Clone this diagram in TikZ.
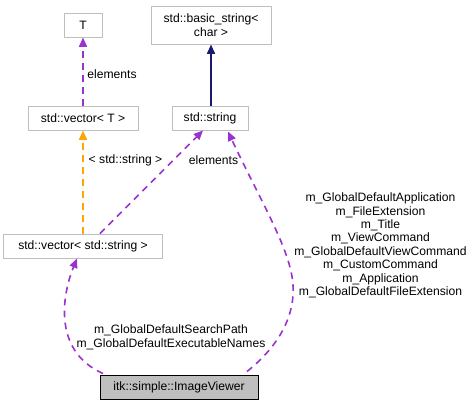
\documentclass[tikz,border=0pt]{standalone}
\usepackage{fontspec}
\setmainfont{Liberation Sans}
\usetikzlibrary{arrows.meta,calc}
\definecolor{edgepurple}{HTML}{9A32CD}
\definecolor{edgeorange}{HTML}{FFA500}
\definecolor{edgenavy}{HTML}{191970}
\definecolor{boxgray}{HTML}{BFBFBF}
\tikzset{
  cls/.style={draw=boxgray, line width=0.75pt, fill=white, inner sep=0pt, minimum height=18pt, align=center, font=\fontsize{9.1pt}{10.1pt}\selectfont},
  mainbox/.style={cls, draw=black, fill=boxgray},
  lbl/.style={font=\fontsize{9.1pt}{10.1pt}\selectfont, align=center, inner sep=0pt},
  tip/.style={-{Triangle[length=7pt,width=6pt]}},
  usage/.style={tip, draw=edgepurple, fill=none, line width=1.2pt, dash pattern=on 5pt off 4pt},
  tmpl/.style={tip, draw=edgeorange, fill=none, line width=1.2pt, dash pattern=on 5pt off 4pt},
  inherit/.style={tip, draw=edgenavy, fill=none, line width=1.2pt},
}
\begin{document}
\begin{tikzpicture}[x=0.75pt,y=-0.75pt]
\useasboundingbox (0,0) rectangle (474,405);
\node[cls, minimum width=28.5pt] (T) at (83,25) {T};
\node[cls, minimum width=90pt, minimum height=28.5pt] (bs) at (211,25) {std::basic\_string<\\char >};
\node[cls, minimum width=82.5pt] (vt) at (83,118) {std::vector< T >};
\node[cls, minimum width=57pt] (str) at (210,118) {std::string};
\node[cls, minimum width=119.25pt] (vs) at (83,246) {std::vector< std::string >};
\node[mainbox, minimum width=118.5pt] (iv) at (179,387) {itk::simple::ImageViewer};

\draw[inherit] (str.north -| bs.south) -- (bs.south);
\draw[usage] (vt.north) -- (T.south);
\draw[tmpl] (vs.north) -- (vt.south);
\draw[usage] ($(vs.north)+(17,0)$) -- ($(str.south)+(-7,0)$);
\draw[usage] ($(iv.north)+(68,-3)$) .. controls (280,345) and (295,315) .. (293,285)
  .. controls (291,250) and (260,200) .. ($(str.south)+(18,1)$);
\draw[usage] ($(iv.north)+(-76,-1)$) .. controls (50,350) and (64,290) .. ($(vs.south)+(-6,0)$);

\node[lbl] (l1) at (112,74) {elements};
\node[lbl] (l2) at (125.5,160) {< std::string >};
\node[lbl] (l3) at (213.5,160) {elements};
\node[lbl] (l4) at (380.5,245.5) {m\_GlobalDefaultApplication\\m\_FileExtension\\m\_Title\\m\_ViewCommand\\m\_GlobalDefaultViewCommand\\m\_CustomCommand\\m\_Application\\m\_GlobalDefaultFileExtension};
\node[lbl] (l5) at (171,337.5) {m\_GlobalDefaultSearchPath\\m\_GlobalDefaultExecutableNames};
\end{tikzpicture}
\end{document}
